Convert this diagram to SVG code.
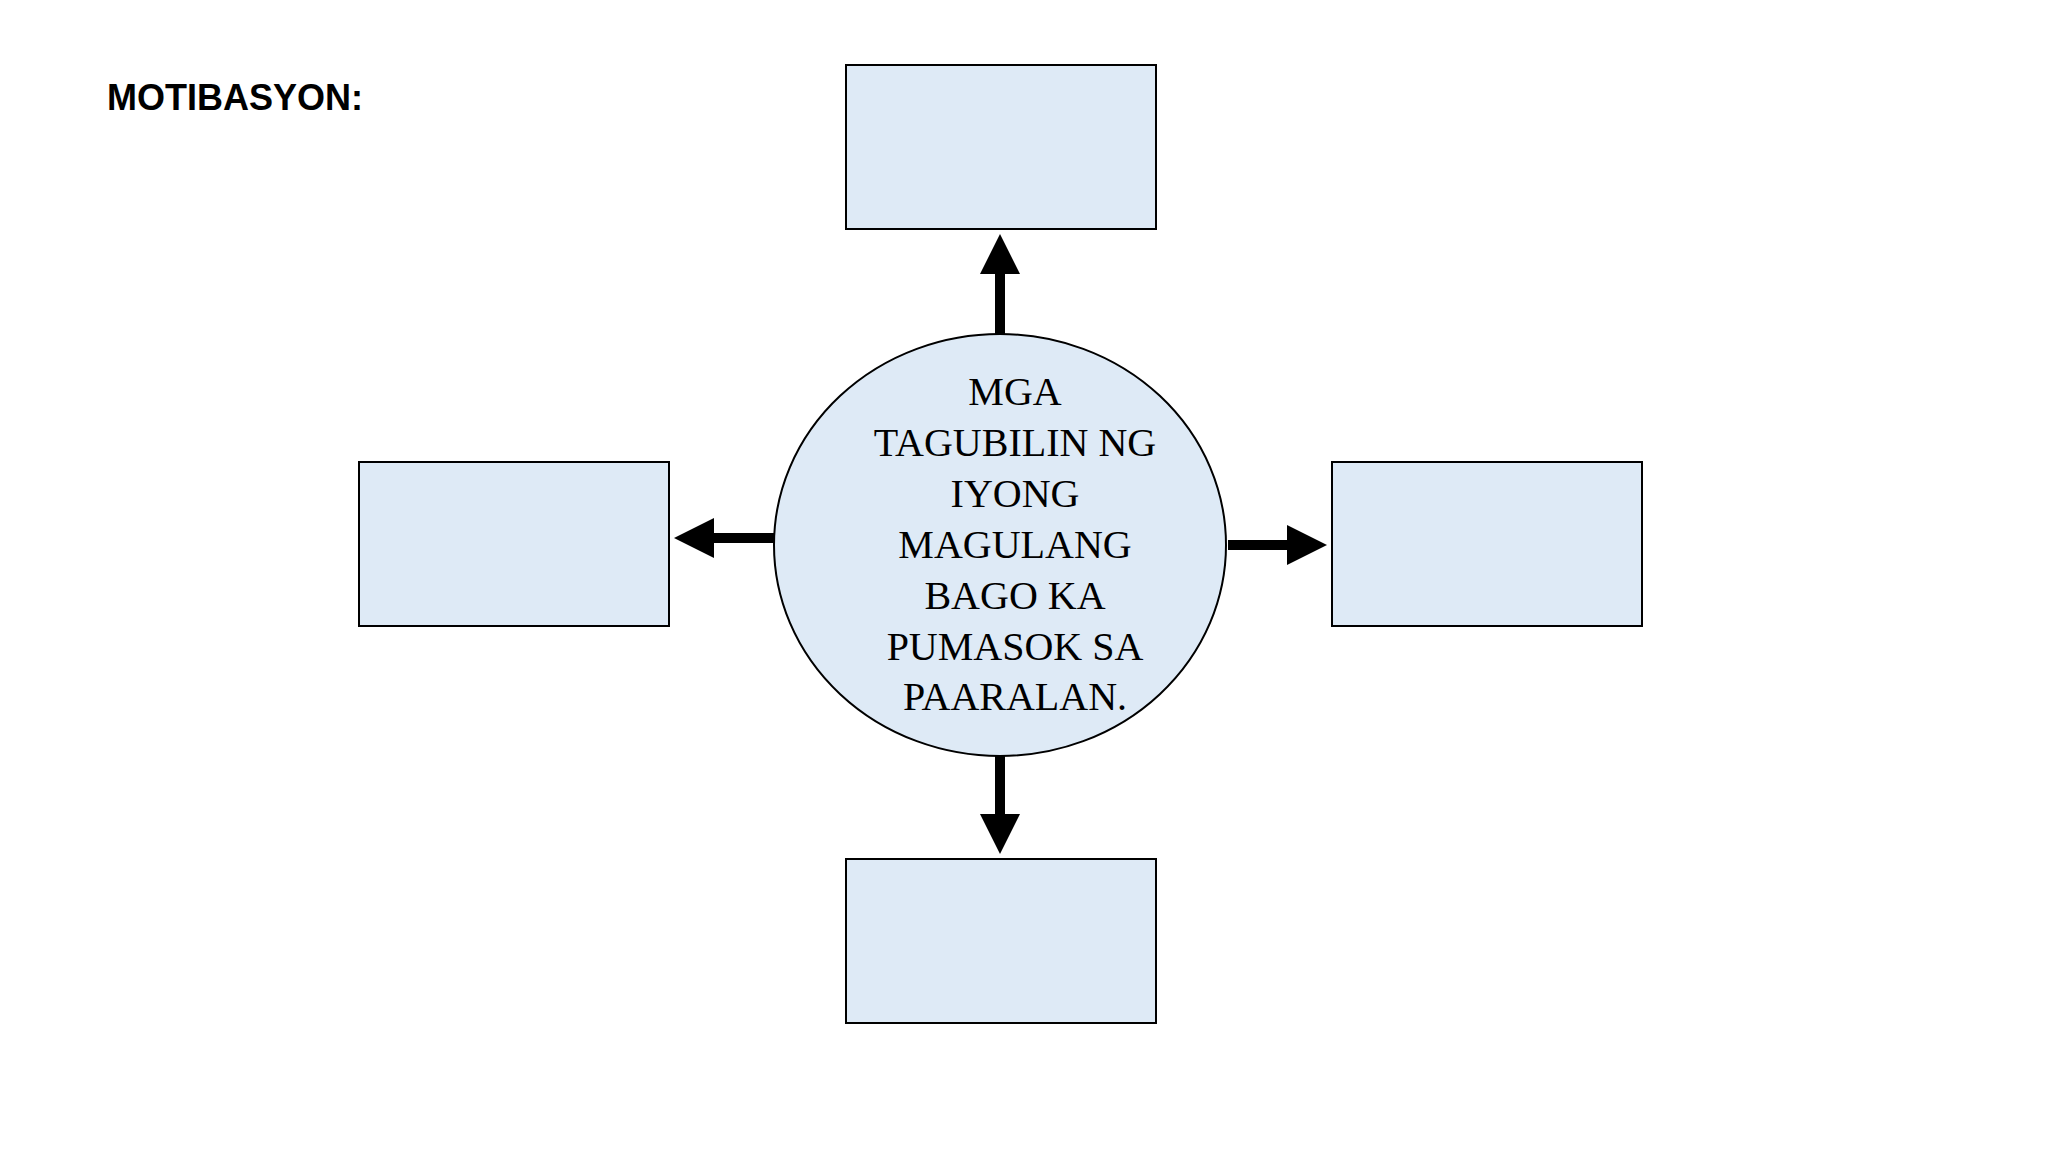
<svg xmlns="http://www.w3.org/2000/svg" width="2048" height="1152" viewBox="0 0 2048 1152">
<style>
.box{fill:#deeaf6;stroke:#000;stroke-width:2}
.c{font-family:"Liberation Serif",serif;font-size:40px;text-anchor:middle;fill:#000}
.ln{stroke:#000;stroke-width:10}
</style>
<defs><marker id="ah" markerWidth="4" markerHeight="4" refX="3" refY="2" orient="auto" markerUnits="strokeWidth"><path d="M0,0 L4,2 L0,4 Z" fill="#000"/></marker></defs>
<rect width="2048" height="1152" fill="#fff"/>
<text x="107" y="110" font-family="Liberation Sans,sans-serif" font-weight="900" font-size="36" fill="#000">MOTIBASYON:</text>
<g id="connectors">
<line class="ln" x1="1000" y1="334" x2="1000" y2="244" marker-end="url(#ah)"/>
<line class="ln" x1="774" y1="538" x2="684" y2="538" marker-end="url(#ah)"/>
<line class="ln" x1="1228" y1="545" x2="1317" y2="545" marker-end="url(#ah)"/>
<line class="ln" x1="1000" y1="756" x2="1000" y2="844" marker-end="url(#ah)"/>
</g>
<g id="top"><rect class="box" x="846" y="65" width="310" height="164"/></g>
<g id="left"><rect class="box" x="359" y="462" width="310" height="164"/></g>
<g id="right"><rect class="box" x="1332" y="462" width="310" height="164"/></g>
<g id="bottom"><rect class="box" x="846" y="859" width="310" height="164"/></g>
<g id="center">
<ellipse cx="1000" cy="545" rx="226" ry="211" fill="#deeaf6" stroke="#000" stroke-width="2"/>
<text class="c" x="1015" y="405">MGA</text>
<text class="c" x="1015" y="456">TAGUBILIN NG</text>
<text class="c" x="1015" y="507">IYONG</text>
<text class="c" x="1015" y="558">MAGULANG</text>
<text class="c" x="1015" y="609">BAGO KA</text>
<text class="c" x="1015" y="660">PUMASOK SA</text>
<text class="c" x="1015" y="710">PAARALAN.</text>
</g>
</svg>
